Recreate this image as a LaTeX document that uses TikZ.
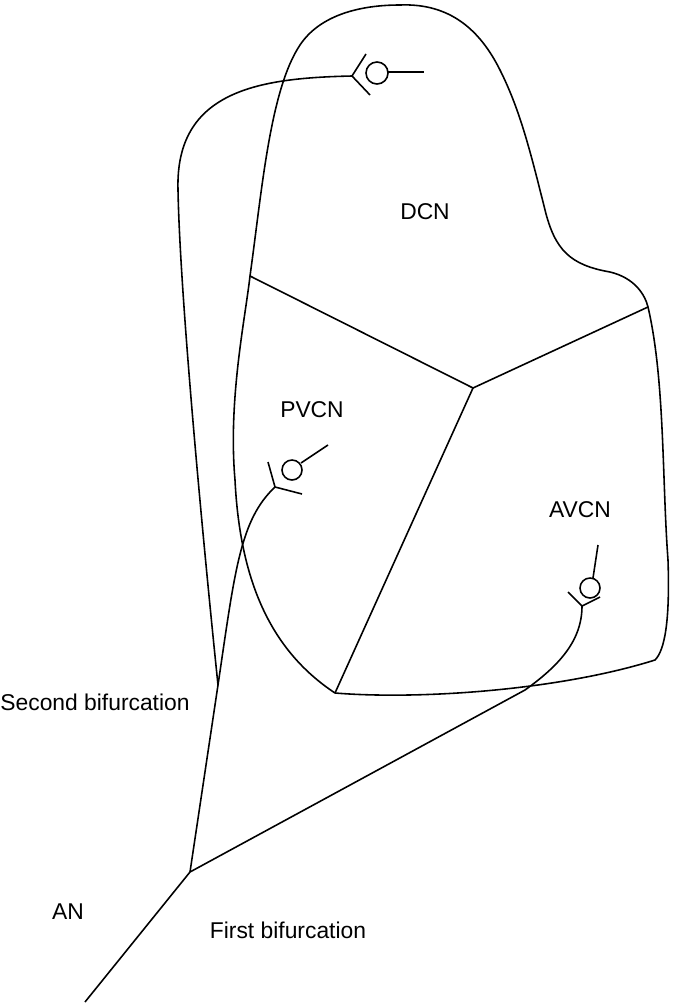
\documentclass[tikz,border=0pt]{standalone}
\usepackage{fontspec}
\setmainfont{Liberation Sans}
\begin{document}
\begin{tikzpicture}[x=0.02cm,y=-0.02cm,line width=0.9pt,lbl/.style={font=\fontsize{13}{15}\selectfont}]
\useasboundingbox (0,0) rectangle (685,1004);
% outline
\draw (335,693) .. controls (270,650) and (240,580) .. (235,480)
 .. controls (228,400) and (245,320) .. (250,276)
 .. controls (262,190) and (270,90) .. (300,45)
 .. controls (320,15) and (360,5) .. (400,5)
 .. controls (450,3) and (480,30) .. (500,70)
 .. controls (520,110) and (530,150) .. (545,210)
 .. controls (555,250) and (570,265) .. (610,272)
 .. controls (635,278) and (645,295) .. (648,307)
 .. controls (665,380) and (662,480) .. (668,560)
 .. controls (670,620) and (665,650) .. (655,660)
 .. controls (560,690) and (420,700) .. (335,693);
\coordinate (c) at (473,388);
\draw (250,276) -- (c) -- (648,307);
\draw (c) -- (335,693);
% axons
\coordinate (b1) at (190,872);
\coordinate (b2) at (218,685);
\draw (85,1002) -- (b1);
\draw (b1) -- (b2);
\draw (b2) .. controls (205,560) and (180,300) .. (178,190)
 .. controls (175,90) and (260,78) .. (352,76);
\draw (b2) .. controls (235,570) and (240,520) .. (275,487);
\draw (b1) -- (525,690) .. controls (560,665) and (582,640) .. (582,606);
% synapses
\draw (366,54) -- (352,76) -- (370,95);
\draw (377,73) circle (11);
\draw (388,72) -- (424,72);
\draw (268,462) -- (275,487) -- (302,494);
\draw (292,470) circle (10);
\draw (301,463) -- (328,445);
\draw (568,592) -- (582,606) -- (600,597);
\draw (590,588) circle (10);
\draw (593,578) -- (598,545);
\node[lbl] (dcn) at (425,212) {DCN};
\node[lbl] (pvcn) at (312,410) {PVCN};
\node[lbl] (avcn) at (580,510) {AVCN};
\node[lbl] (sb) at (95,702) {Second bifurcation};
\node[lbl] (an) at (68,912) {AN};
\node[lbl] (fb) at (288,930) {First bifurcation};
\end{tikzpicture}
\end{document}
